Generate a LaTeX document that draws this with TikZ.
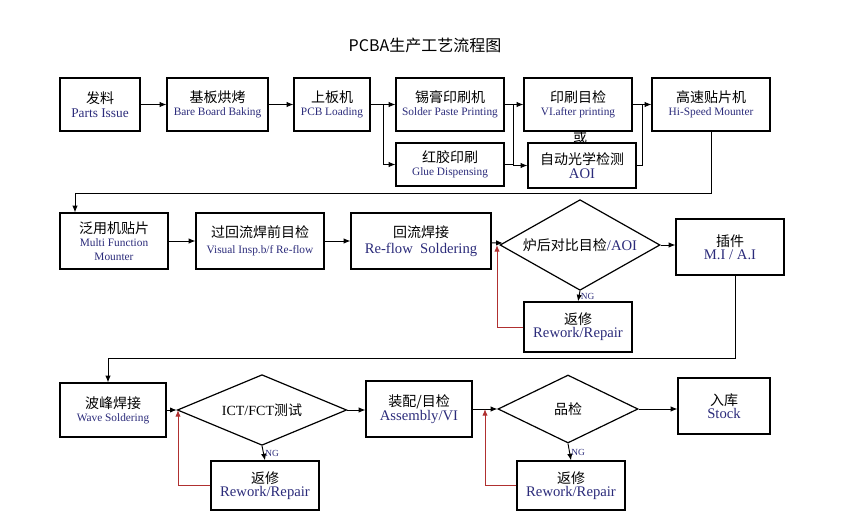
\documentclass[tikz,border=0pt]{standalone}
\usepackage{fontspec}
\setmainfont{Liberation Serif}
\newfontfamily\cjk{Noto Sans CJK SC}
\usetikzlibrary{shapes.geometric,arrows.meta}
\definecolor{eng}{HTML}{2B2B7A}
\definecolor{rw}{HTML}{B03030}
\tikzset{
 box/.style={draw,line width=0.9pt,inner sep=0pt,align=center,font=\fontsize{8.5}{10}\selectfont},
 dia/.style={draw,line width=0.9pt,diamond,inner sep=0pt},
 arr/.style={-{Latex[length=5pt,width=4pt]},line width=0.7pt},
 ln/.style={line width=0.7pt},
 red/.style={-{Latex[length=5pt,width=4pt]},line width=0.7pt,draw=rw}
}
\newcommand\zh[1]{{\cjk\fontsize{10.5}{12}\selectfont #1}}
\newcommand\en[1]{{\color{eng}#1}}
\newcommand\bx[6]{\node[box,minimum width={(#4-#2)*0.75pt},minimum height={(#5-#3)*0.75pt}] (#1) at ({(#2+#4)/2},{(#3+#5)/2}) {#6};}
\begin{document}
\begin{tikzpicture}[x=0.75pt,y=-0.75pt]
\useasboundingbox (0,0) rectangle (841,513);
\node at (425,45) {\zh{\fontsize{12}{14}\selectfont PCBA生产工艺流程图}};
% row 1
\bx{a1}{60}{78}{140}{131}{\zh{发料}\\\en{\fontsize{10}{12}\selectfont Parts Issue}}
\bx{a2}{167}{78}{268}{131}{\zh{基板烘烤}\\\en{Bare Board Baking}}
\bx{a3}{294}{78}{370}{131}{\zh{上板机}\\\en{PCB Loading}}
\bx{a4}{396}{78}{504}{131}{\zh{锡膏印刷机}\\\en{Solder Paste Printing}}
\bx{a5}{396}{143}{504}{186}{\zh{红胶印刷}\\\en{Glue Dispensing}}
\bx{a6}{524}{78}{632}{131}{\zh{印刷目检}\\\en{VI.after printing}}
\node at (580,137) {\zh{或}};
\bx{a7}{528}{143}{636}{188}{\zh{自动光学检测}\\\en{\fontsize{11}{12}\selectfont AOI}}
\bx{a8}{652}{78}{770}{131}{\zh{高速贴片机}\\\en{Hi-Speed Mounter}}
\draw[arr] (a1) -- (a2);
\draw[arr] (a2) -- (a3);
\draw[ln] (a3.east) -- (383,104.5) coordinate (s1);
\draw[arr] (s1) -- (a4.west);
\draw[arr] (s1) |- (a5.west);
\draw[ln] (a4.east) -- (513,104.5) coordinate (s2);
\draw[ln] (a5.east) -| (s2);
\draw[arr] (s2) -- (a6.west);
\draw[arr] (s2) |- (a7.west);
\draw[ln] (a6.east) -- (642,104.5) coordinate (s3);
\draw[ln] (a7.east) -| (s3);
\draw[arr] (s3) -- (a8.west);
% row 2
\bx{b1}{60}{213}{168}{269}{\zh{泛用机贴片}\\\en{Multi Function}\\\en{Mounter}}
\bx{b2}{196}{213}{324}{269}{\zh{过回流焊前目检}\\[2pt]\en{Visual Insp.b/f Re-flow}}
\bx{b3}{351}{213}{491}{269}{\zh{回流焊接}\\[2pt]\en{\fontsize{11}{12}\selectfont Re-flow\ \ Soldering}}
\node[dia,minimum width=120pt,minimum height=68pt] (d1) at (580,245) {};
\node at (d1) {\zh{炉后对比目检}\en{\fontsize{11}{12}\selectfont/AOI}};
\bx{b4}{676}{219}{784}{275}{\zh{插件}\\\en{\fontsize{11}{12}\selectfont M.I / A.I}}
\bx{r1}{524}{302}{632}{352}{\zh{返修}\\\en{\fontsize{11}{12}\selectfont Rework/Repair}}
\coordinate (t1) at (711,193);
\coordinate (t2) at (75,193);
\draw[ln] (a8.south -| t1) -- (t1) -- (t2);
\draw[arr] (t2) -- (b1.north -| t2);
\draw[arr] (b1) -- (b2);
\draw[arr] (b2) -- (b3);
\draw[arr] (b3) -- (d1);
\draw[arr] (d1.east) -- (b4.west |- d1.east);
\draw[arr] (d1.south) -- (r1.north) node[pos=0.5,right,inner sep=1pt,font=\fontsize{7}{8}\selectfont\color{eng}]{NG};
\draw[red] (r1.west) -| (497,245);
% row 3
\bx{c1}{60}{383}{166}{437}{\zh{波峰焊接}\\\en{Wave Soldering}}
\node[dia,minimum width=127pt,minimum height=53pt] (d2) at (262,410) {};
\node at (d2) {\en{\color{black}\fontsize{10.5}{12}\selectfont ICT/FCT}\zh{测试}};
\bx{c2}{366}{381}{472}{437}{\zh{装配/目检}\\\en{\fontsize{11}{12}\selectfont Assembly/VI}}
\node[dia,minimum width=105pt,minimum height=51pt] (d3) at (568,409) {};
\node at (d3) {\zh{品检}};
\bx{c3}{678}{378}{770}{434}{\zh{入库}\\\en{\fontsize{11}{12}\selectfont Stock}}
\bx{r2}{211}{461}{319}{510}{\zh{返修}\\\en{\fontsize{11}{12}\selectfont Rework/Repair}}
\bx{r3}{517}{461}{625}{510}{\zh{返修}\\\en{\fontsize{11}{12}\selectfont Rework/Repair}}
\coordinate (t3) at (735,358);
\coordinate (t4) at (108,358);
\draw[ln] (b4.south -| t3) -- (t3) -- (t4);
\draw[arr] (t4) -- (c1.north -| t4);
\draw[arr] (c1) -- (d2);
\draw[arr] (d2) -- (c2.west |- d2);
\draw[arr] (c2.east |- d3) -- (d3);
\draw[arr] (d3.east) -- (c3.west |- d3.east);
\draw[arr] (d2.south) -- (r2.north) node[pos=0.5,right,inner sep=1pt,font=\fontsize{7}{8}\selectfont\color{eng}]{NG};
\draw[arr] (d3.south) -- (r3.north) node[pos=0.5,right,inner sep=1pt,font=\fontsize{7}{8}\selectfont\color{eng}]{NG};
\draw[red] (r2.west) -| (178,410);
\draw[red] (r3.west) -| (485,409);
\end{tikzpicture}
\end{document}
